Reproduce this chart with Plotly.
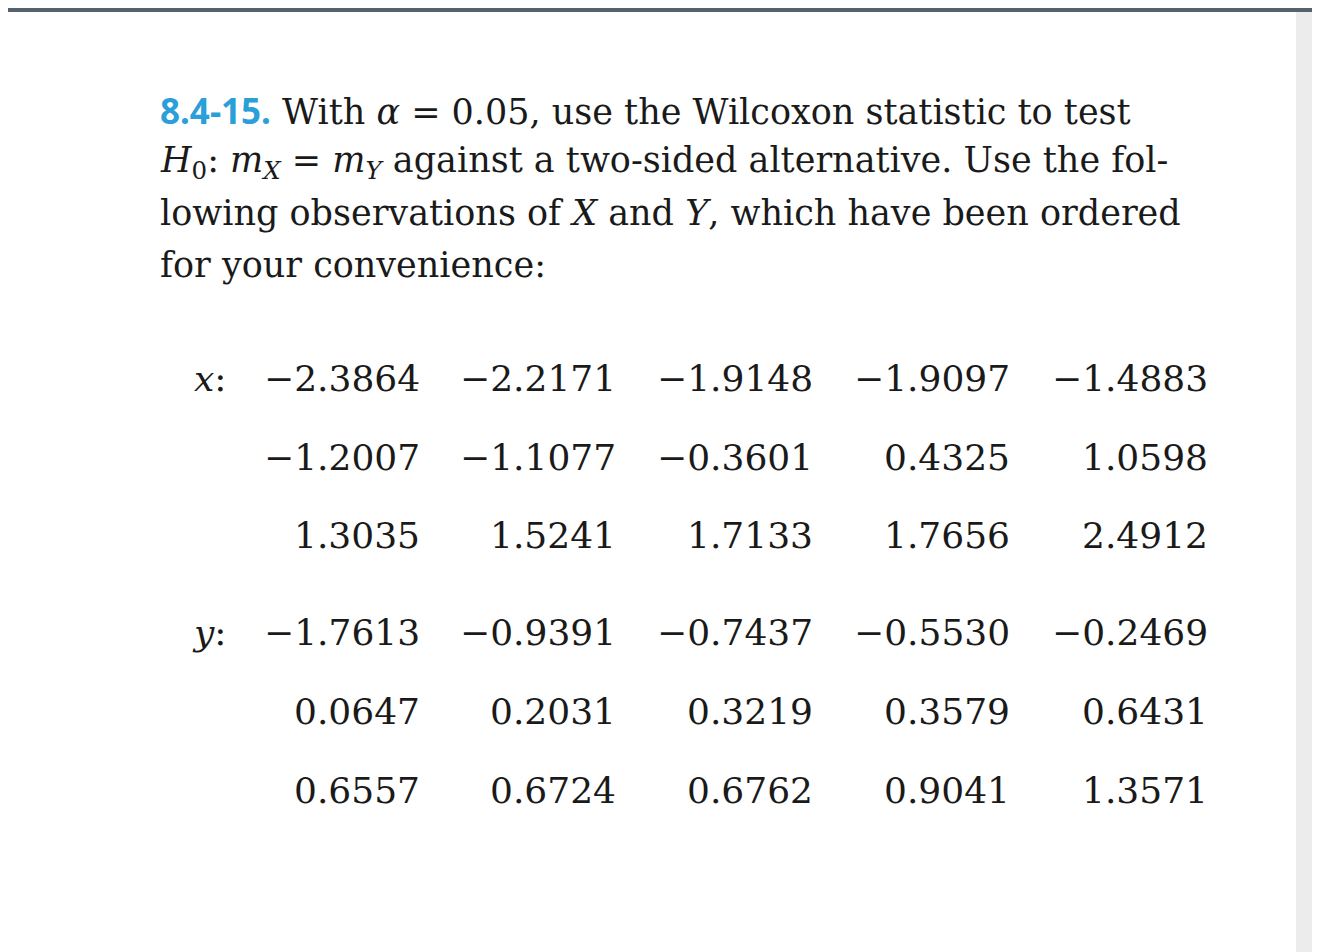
import plotly.graph_objects as go

problem_no = "8.4-15."
lines = [
    "With <i>α</i> = 0.05, use the Wilcoxon statistic to test",
    "<i>H</i><sub>0</sub>: <i>m<sub>X</sub></i> = <i>m<sub>Y</sub></i> against a two-sided alternative. Use the fol-",
    "lowing observations of <i>X</i> and <i>Y</i>, which have been ordered",
    "for your convenience:",
]
x_vals = [-2.3864, -2.2171, -1.9148, -1.9097, -1.4883,
          -1.2007, -1.1077, -0.3601, 0.4325, 1.0598,
          1.3035, 1.5241, 1.7133, 1.7656, 2.4912]
y_vals = [-1.7613, -0.9391, -0.7437, -0.5530, -0.2469,
          0.0647, 0.2031, 0.3219, 0.3579, 0.6431,
          0.6557, 0.6724, 0.6762, 0.9041, 1.3571]

serif = "DejaVu Serif"
off = 8  # page body margin
fig = go.Figure()
ann = []

# paragraph
line_y = [110, 162, 213, 265]
for i, (t, yy) in enumerate(zip(lines, line_y)):
    if i == 0:
        t = ("<span style='font-family:Noto Sans;color:#2a9fd8;font-weight:bold'>"
             + problem_no + "</span> " + t)
    ann.append(dict(x=158 - off, y=yy - off, text=t, xanchor="left", yanchor="middle",
                    showarrow=False, font=dict(family=serif, size=35, color="#1a1a1a")))

def fmt(v):
    return ("−%.4f" % -v) if v < 0 else "%.4f" % v

col_right = [422, 618, 815, 1012, 1210]
def table(label, vals, rows_y):
    ann.append(dict(x=228 - off, y=rows_y[0] - off, text="<i>%s</i>:" % label, xanchor="right",
                    yanchor="middle", showarrow=False,
                    font=dict(family=serif, size=36, color="#1a1a1a")))
    for k, v in enumerate(vals):
        r, c = divmod(k, 5)
        ann.append(dict(x=col_right[c] - off, y=rows_y[r] - off, text=fmt(v), xanchor="right",
                        yanchor="middle", showarrow=False,
                        font=dict(family=serif, size=36, color="#1a1a1a")))

table("x", x_vals, [378, 457, 535])
table("y", y_vals, [632, 711, 790])

shapes = [
    dict(type="rect", x0=0, x1=1320, y0=0, y1=4, fillcolor="#55616d", line_width=0),
    dict(type="rect", x0=1288, x1=1320, y0=4, y1=952, fillcolor="#ececec", line_width=0),
]

fig.update_layout(
    width=1320, height=952, margin=dict(l=0, r=0, t=0, b=0),
    paper_bgcolor="white", plot_bgcolor="white",
    xaxis=dict(range=[0, 1320], visible=False),
    yaxis=dict(range=[952, 0], visible=False),
    annotations=ann, shapes=shapes, showlegend=False,
)
fig.write_html("out.html")
